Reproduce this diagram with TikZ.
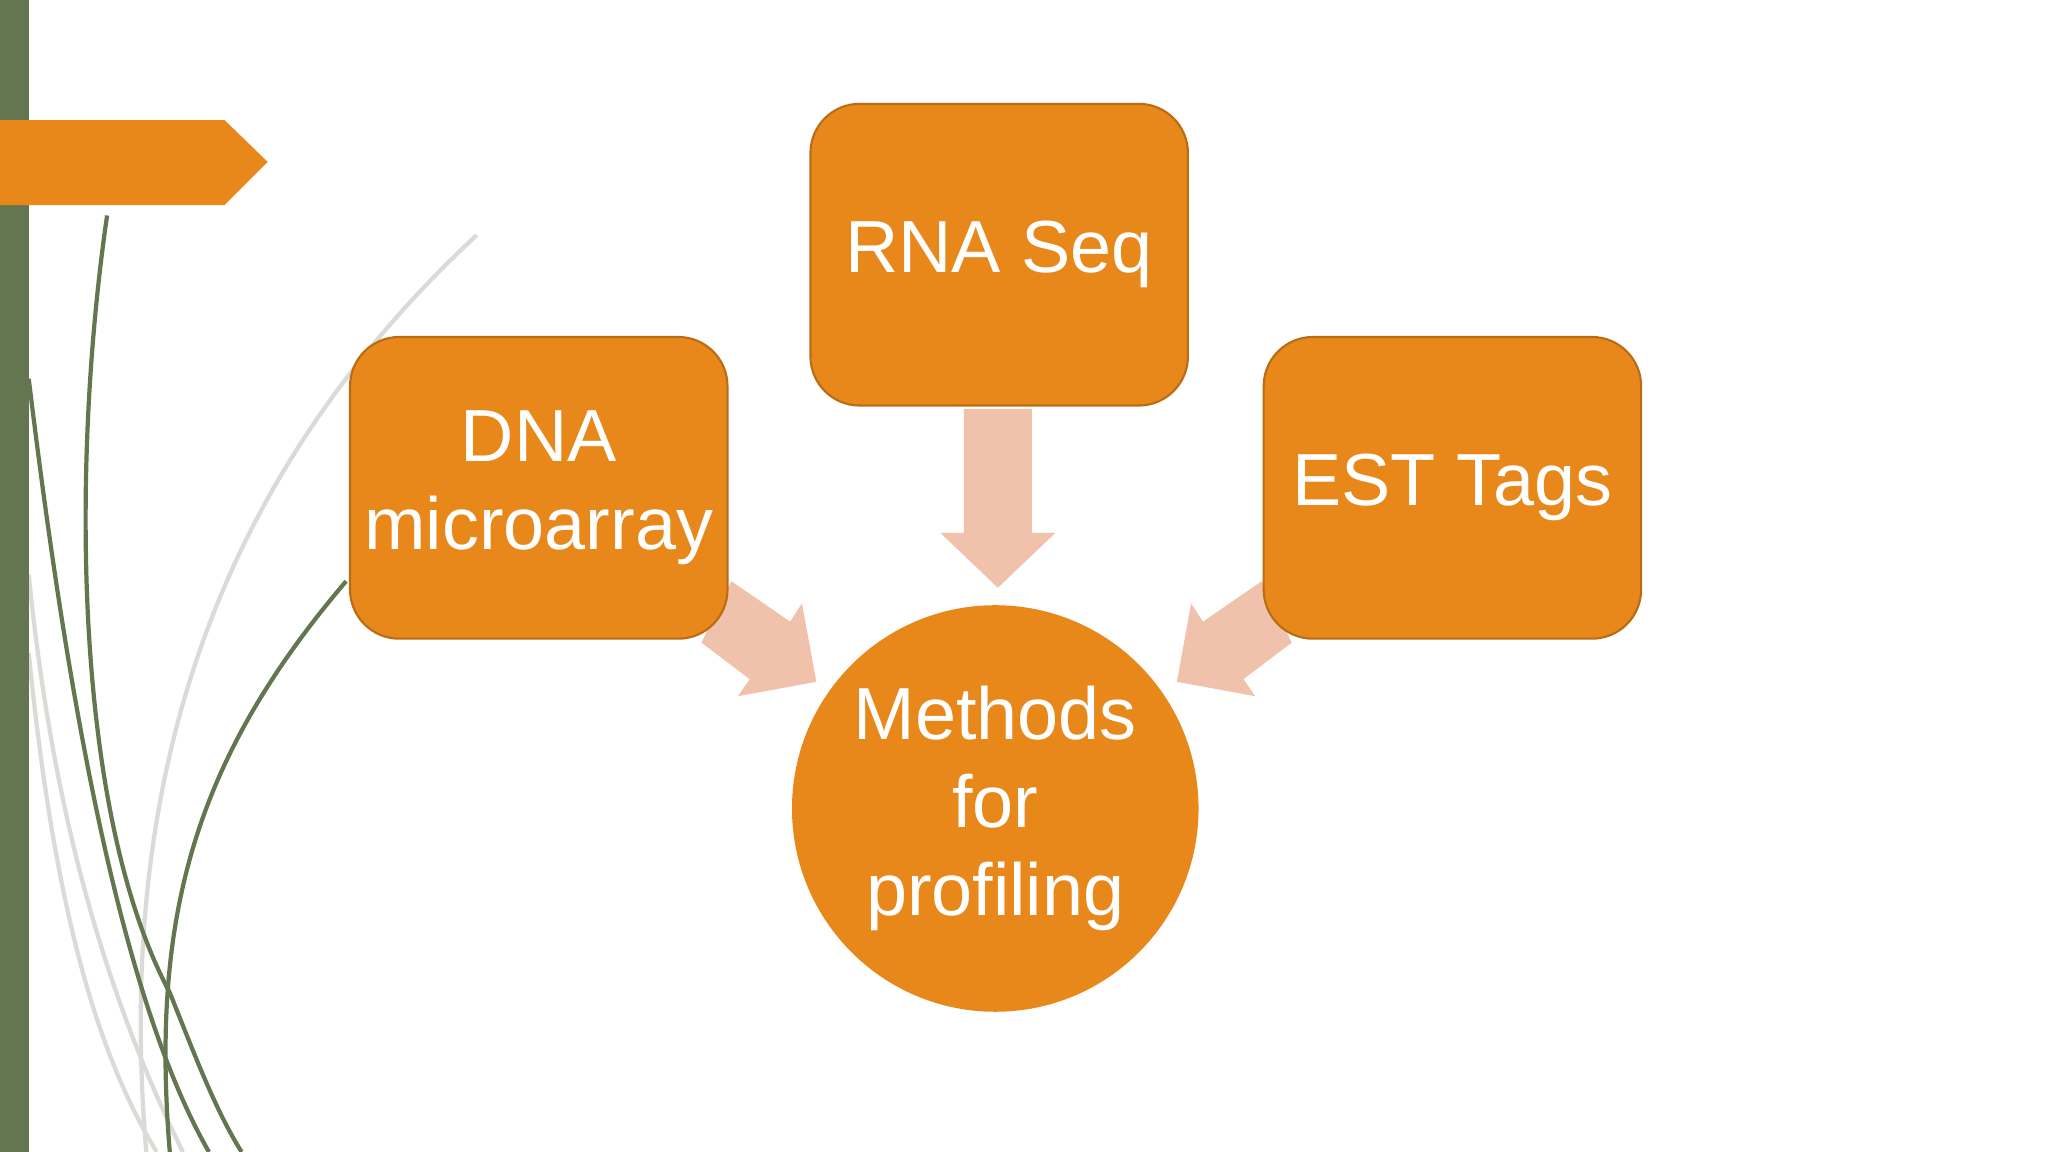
\documentclass[tikz,border=0pt]{standalone}
\usepackage{fontspec}
\setmainfont{Liberation Sans}
\definecolor{orng}{HTML}{E8871A}
\definecolor{peach}{HTML}{F0C2AC}
\definecolor{leaf}{HTML}{637650}
\definecolor{leafl}{HTML}{D9DCD6}
\newlength{\pxu}\setlength{\pxu}{0.013061cm}
\tikzset{
  box/.style={draw=orng!80!black,line width=0.6pt,fill=orng,rounded corners=14pt,
    minimum width=289\pxu,minimum height=231\pxu,text=white,align=center,
    font=\fontsize{21}{25}\selectfont},
  blob/.style={circle,fill=orng,minimum size=304\pxu,text=white,align=center,
    font=\fontsize{21}{25}\selectfont},
  stem/.style={leaf,line width=1.2pt},
  stemg/.style={leafl,line width=1.2pt}
}
\begin{document}
\begin{tikzpicture}[x=\pxu,y=-\pxu]
\useasboundingbox (0,0) rectangle (1568,882);
\fill[white] (0,0) rectangle (1568,882);
% stems
\draw[stemg] (365,180) .. controls (150,380) and (90,620) .. (112,882);
\draw[stemg] (22,440) .. controls (40,620) and (80,760) .. (140,882);
\draw[stemg] (22,500) .. controls (40,680) and (70,800) .. (120,882);
\draw[stem] (82,165) .. controls (55,350) and (55,620) .. (130,760) .. controls (150,810) and (165,850) .. (185,882);
\draw[stem] (22,290) .. controls (50,520) and (90,760) .. (160,882);
\draw[stem] (265,445) .. controls (150,580) and (115,700) .. (130,882);
% left bar and tab
\fill[leaf] (0,0) rectangle (22,882);
\fill[orng] (0,92) -- (172,92) -- (205,124) -- (172,157) -- (0,157) -- cycle;
% arrows
\fill[peach] (738,313) -- (790,313) -- (790,408) -- (808,408) -- (764,450) -- (720,408) -- (738,408) -- cycle;
\fill[peach] (560,445) -- (605,476) -- (614,462) -- (625,522) -- (565,533) -- (574,520) -- (537,492) -- cycle;
\fill[peach] (966,445) -- (921,476) -- (912,462) -- (901,522) -- (961,533) -- (952,520) -- (989,492) -- cycle;
% nodes
\node[box] (rna) at (765,195) {RNA Seq};
\node[box] (dna) at (412.5,373.5) {DNA\\microarray};
\node[box] (est) at (1112,373.5) {EST Tags};
\node[blob] (mth) at (762,619) {Methods\\for\\profiling};
\end{tikzpicture}
\end{document}
